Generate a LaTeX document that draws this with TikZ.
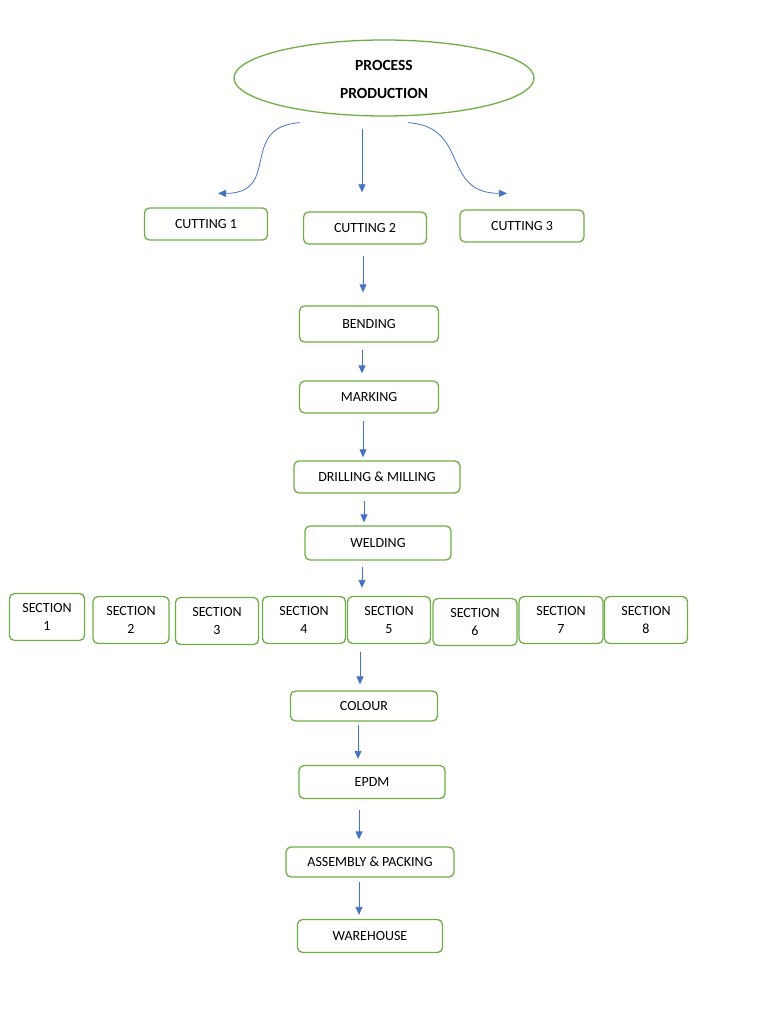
\documentclass[tikz,border=0pt]{standalone}
\usepackage{fontspec}
\setmainfont{Carlito}
\usepackage{tikz}
\usetikzlibrary{calc}
\usetikzlibrary{shapes}
\usetikzlibrary{arrows.meta}

\definecolor{boxgreen}{HTML}{70AD47}
\definecolor{flowblue}{HTML}{4472C4}

\tikzset{
	stagebox/.style={draw=boxgreen, line width=1.3pt, rounded corners=5pt, fill=white,
		font=\fontsize{14}{16}\selectfont, inner sep=2pt},
	secbox/.style={stagebox, minimum width=83, minimum height=47, align=center,
		font=\fontsize{14}{18}\selectfont},
	flow/.style={draw=flowblue, line width=0.8pt, -{Triangle[length=8pt,width=7pt]}},
}

\begin{document}
\begin{tikzpicture}[x=1pt, y=-1pt]
			\useasboundingbox (0,0) rectangle (768,1024);
			\coordinate (spine) at (362,0);

			\node[draw=boxgreen, line width=1.3pt, ellipse, minimum width=300, minimum height=76, inner sep=0pt] (top) at (384,78) {};
			\node[font=\bfseries\fontsize{15.5}{16}\selectfont] at (384,65) {PROCESS};
			\node[font=\bfseries\fontsize{15.5}{16}\selectfont] at (384,93) {PRODUCTION};

			\node[stagebox, minimum width=123, minimum height=32] (cut1) at (206,224) {CUTTING 1};
			\node[stagebox, minimum width=123, minimum height=32] (cut2) at (365,228) {CUTTING 2};
			\node[stagebox, minimum width=124, minimum height=32] (cut3) at (522,226) {CUTTING 3};
			\node[stagebox, minimum width=139, minimum height=36] (bending) at (369,324) {BENDING};
			\node[stagebox, minimum width=139, minimum height=32] (marking) at (369,397) {MARKING};
			\node[stagebox, minimum width=166, minimum height=32] (drilling) at (377,477) {DRILLING \& MILLING};
			\node[stagebox, minimum width=146, minimum height=34] (welding) at (378,543) {WELDING};

			\node[secbox, minimum width=75] (sec1) at (47,617) {SECTION\\1};
			\node[secbox, minimum width=76] (sec2) at (131,620) {SECTION\\2};
			\node[secbox] (sec3) at (217,621) {SECTION\\3};
			\node[secbox] (sec4) at (304,620) {SECTION\\4};
			\node[secbox] (sec5) at (389,620) {SECTION\\5};
			\node[secbox, minimum width=84] (sec6) at (475,622) {SECTION\\6};
			\node[secbox, minimum width=84] (sec7) at (561,620) {SECTION\\7};
			\node[secbox] (sec8) at (646,620) {SECTION\\8};

			\node[stagebox, minimum width=147, minimum height=30] (colour) at (364,706) {COLOUR};
			\node[stagebox, minimum width=146, minimum height=33] (epdm) at (372,782) {EPDM};
			\node[stagebox, minimum width=168, minimum height=30] (assembly) at (370,862) {ASSEMBLY \& PACKING};
			\node[stagebox, minimum width=145, minimum height=33] (warehouse) at (370,936) {WAREHOUSE};

			% from the top
			\draw[flow] ([shift={(-84,6)}]top.south) .. controls +(-62,4) and +(64,0) .. ([shift={(12,-14)}]cut1.north);
			\draw[flow, shorten <=12pt, shorten >=19pt] (top.south -| spine) -- (cut2.north -| spine);
			\draw[flow] ([shift={(24,6)}]top.south) .. controls +(62,4) and +(-66,0) .. ([shift={(-15,-16)}]cut3.north);

			% down the line
			\draw[flow, shorten <=11pt, shorten >=13pt] ([xshift=1]cut2.south -| spine) -- ([xshift=1]bending.north -| spine);
			\draw[flow, shorten <=7pt, shorten >=7pt] (bending.south -| spine) -- (marking.north -| spine);
			\draw[flow, shorten <=7pt, shorten >=3pt] ([xshift=1]marking.south -| spine) -- ([xshift=1]drilling.north -| spine);
			\draw[flow, shorten <=7pt, shorten >=3pt] ([xshift=2]drilling.south -| spine) -- ([xshift=2]welding.north -| spine);
			\draw[flow, shorten <=6pt, shorten >=8pt] (welding.south -| spine) -- (sec5.north -| spine);
			\draw[flow, shorten <=8pt, shorten >=6pt] ([xshift=-2]sec5.south -| spine) -- ([xshift=-2]colour.north -| spine);
			\draw[flow, shorten <=3pt, shorten >=6pt] ([xshift=-4]colour.south -| spine) -- ([xshift=-4]epdm.north -| spine);
			\draw[flow, shorten <=11pt, shorten >=7pt] ([xshift=-3]epdm.south -| spine) -- ([xshift=-3]assembly.north -| spine);
			\draw[flow, shorten <=4pt, shorten >=4pt] ([xshift=-3]assembly.south -| spine) -- ([xshift=-3]warehouse.north -| spine);
\end{tikzpicture}
\end{document}
